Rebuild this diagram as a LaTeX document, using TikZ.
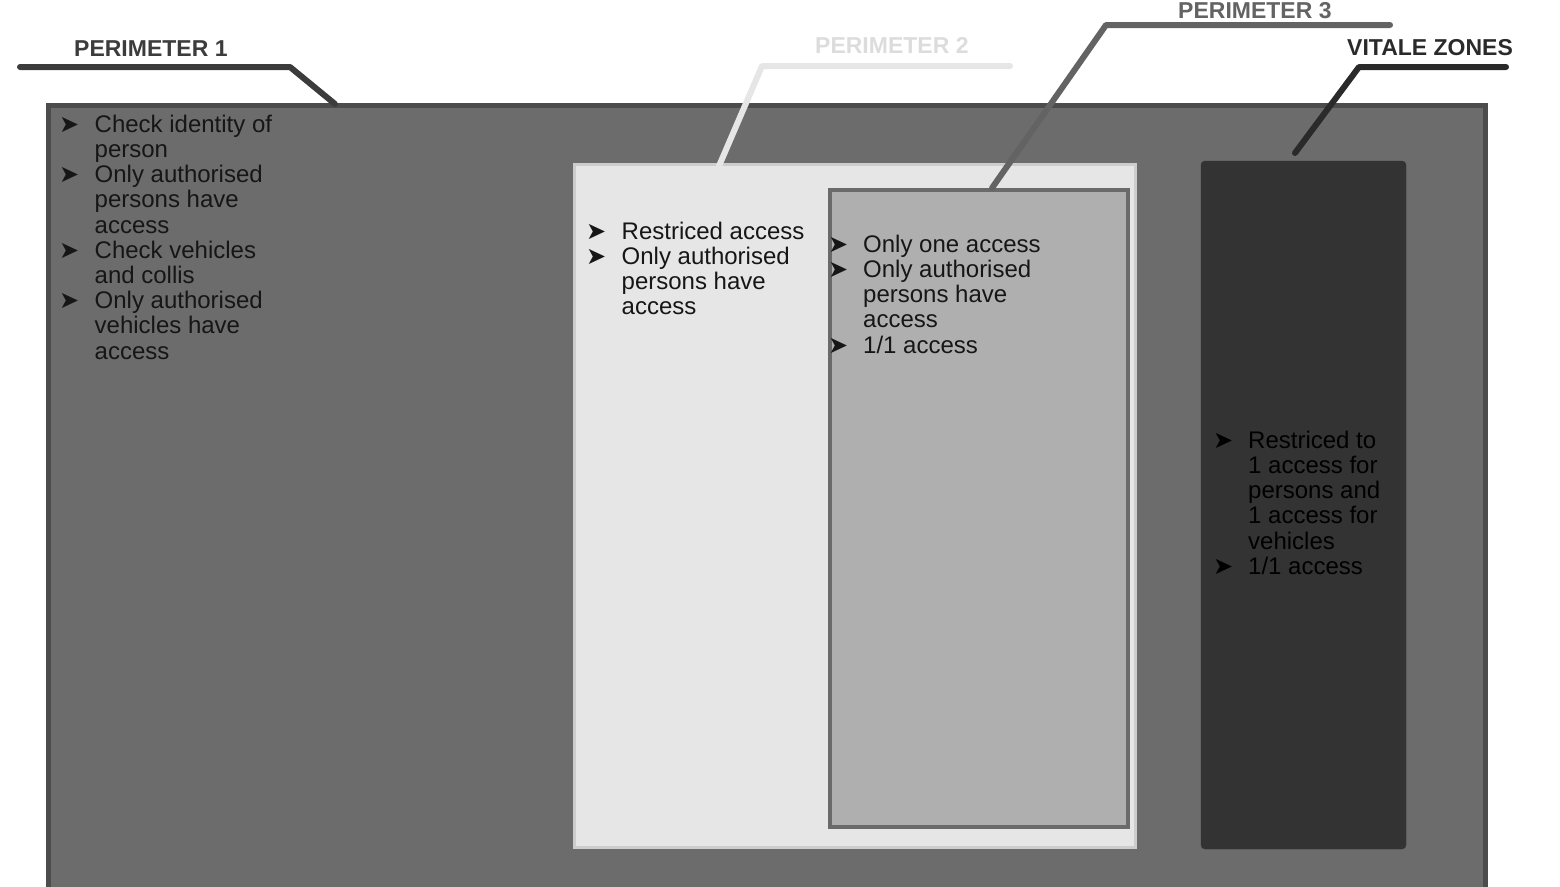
\documentclass[tikz,border=0pt]{standalone}
\usepackage{fontspec}
\setmainfont{Liberation Sans}
\newfontfamily\dingfont{DejaVu Sans}
\definecolor{oneback}{HTML}{6C6C6C}
\definecolor{oneedge}{HTML}{4C4C4C}
\definecolor{onelead}{HTML}{3C3C3C}
\definecolor{twoback}{HTML}{E6E6E6}
\definecolor{twoedge}{HTML}{CDCDCD}
\definecolor{twolead}{HTML}{E6E6E6}
\definecolor{threeback}{HTML}{AFAFAF}
\definecolor{threeedge}{HTML}{6A6A6A}
\definecolor{threelead}{HTML}{636363}
\definecolor{vzback}{HTML}{333333}
\definecolor{vzlead}{HTML}{2A2A2A}
\definecolor{txtdark}{HTML}{161616}
\newcommand{\bul}{{\dingfont\fontsize{24}{24}\selectfont ➤}}

\begin{document}
\begin{tikzpicture}[x=1pt,y=-1pt,
  lead/.style={line width=6pt,line cap=round,line join=round},
  lbl/.style={font=\fontsize{23}{23}\selectfont\bfseries,anchor=base west,inner sep=0pt},
  list/.style={font=\fontsize{24}{25.2}\selectfont,anchor=north west,inner sep=0pt,text=txtdark}]
\useasboundingbox (0,0) rectangle (1560,886);
\clip (0,0) rectangle (1560,886);
% zones
\draw[fill=oneback,draw=oneedge,line width=5pt] (48,105) rectangle (1485,920);
\draw[fill=twoback,draw=twoedge,line width=3pt] (574,164) rectangle (1135,847);
\draw[fill=threeback,draw=threeedge,line width=4pt] (830,190) rectangle (1128,827);
\draw[fill=vzback,draw=vzback,rounded corners=4pt] (1201,161) rectangle (1406,849);
% labels
\node[lbl,text=onelead] (pone) at (74,56) {PERIMETER 1};
\node[lbl,text=twolead!90!gray] (ptwo) at (815,53) {PERIMETER 2};
\node[lbl,text=threelead] (pthree) at (1178,18) {PERIMETER 3};
\node[lbl,text=vzlead] (vzone) at (1347,55) {VITALE ZONES};
% leaders
\coordinate (onea) at (20,67);
\coordinate (oneb) at (290,67);
\coordinate (onec) at (335,104);
\coordinate (twoa) at (1010,66);
\coordinate (twob) at (762,66);
\coordinate (twoc) at (719,166);
\coordinate (threea) at (1390,25);
\coordinate (threeb) at (1106,25);
\coordinate (threec) at (992,188);
\coordinate (vza) at (1506,67);
\coordinate (vzb) at (1359,67);
\coordinate (vzc) at (1295,153);
\draw[lead,onelead] (onea) -- (oneb) -- (onec);
\draw[lead,twolead] (twoa) -- (twob) -- (twoc);
\draw[lead,threelead] (threea) -- (threeb) -- (threec);
\draw[lead,vzlead] (vza) -- (vzb) -- (vzc);
% lists
\node[list] (onetext) at (59,114.5) {\begin{tabular}[t]{@{}p{35.5pt}@{}l@{}}
\bul & Check identity of\\
 & person\\
\bul & Only authorised\\
 & persons have\\
 & access\\
\bul & Check vehicles\\
 & and collis\\
\bul & Only authorised\\
 & vehicles have\\
 & access
\end{tabular}};
\node[list] (twotext) at (586,221.5) {\begin{tabular}[t]{@{}p{35.5pt}@{}l@{}}
\bul & Restriced access\\
\bul & Only authorised\\
 & persons have\\
 & access
\end{tabular}};
\node[list] (threetext) at (828,234.5) {\begin{tabular}[t]{@{}p{35pt}@{}l@{}}
\bul & Only one access\\
\bul & Only authorised\\
 & persons have\\
 & access\\
\bul & 1/1 access
\end{tabular}};
\node[list,text=black] (vztext) at (1213,430.5) {\begin{tabular}[t]{@{}p{35pt}@{}l@{}}
\bul & Restriced to\\
 & 1 access for\\
 & persons and\\
 & 1 access for\\
 & vehicles\\
\bul & 1/1 access
\end{tabular}};
\end{tikzpicture}
\end{document}
